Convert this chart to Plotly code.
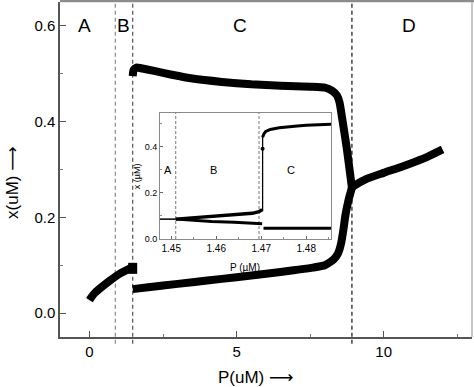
import plotly.graph_objects as go

# ---------------- main panel data ----------------
# lower branch in regions A/B
pAB = [0.0, 0.1, 0.2, 0.37, 0.7, 1.05, 1.47]
xAB = [0.027, 0.036, 0.043, 0.052, 0.068, 0.083, 0.096]
# small step at the end of that branch
pStep = [1.47, 1.47]
xStep = [0.082, 0.105]
# lower branch in region C
pClow = [1.47, 2.0, 3.0, 4.0, 5.0, 6.0, 7.0, 7.6, 8.0, 8.3, 8.45, 8.55, 8.62, 8.7, 8.8, 8.92]
xClow = [0.050, 0.054, 0.061, 0.068, 0.075, 0.082, 0.090, 0.095, 0.100, 0.112, 0.125, 0.145, 0.170, 0.205, 0.235, 0.262]
# upper branch in region C
pCup = [1.47, 1.50, 1.6, 1.8, 2.2, 2.8, 3.5, 4.5, 5.5, 6.5, 7.5, 8.0, 8.24, 8.41, 8.5, 8.58, 8.75, 8.92]
xCup = [0.495, 0.508, 0.513, 0.511, 0.506, 0.498, 0.490, 0.483, 0.478, 0.475, 0.473, 0.471, 0.465, 0.455, 0.440, 0.410, 0.342, 0.262]
# branch in region D
pD = [8.92, 9.0, 9.4, 10.0, 10.8, 11.5, 12.0]
xD = [0.262, 0.266, 0.280, 0.293, 0.310, 0.327, 0.342]

boundaries = [0.88, 1.47, 8.92]
boundary_colors = ["#8a8a8a", "#555555", "#111111"]
region_names = ["A", "B", "C", "D"]
region_p = [-0.17, 1.15, 5.1, 10.85]
region_x = [0.60, 0.60, 0.60, 0.60]

x_ticks = [0, 5, 10]
y_ticks = [0.0, 0.2, 0.4, 0.6]

# ---------------- inset data ----------------
iA_p = [1.4475, 1.451]
iA_x = [0.086, 0.086]
iBup_p = [1.451, 1.455, 1.459, 1.463, 1.466, 1.468, 1.4695, 1.4702]
iBup_x = [0.086, 0.092, 0.098, 0.103, 0.107, 0.111, 0.118, 0.127]
iBlo_p = [1.451, 1.455, 1.459, 1.464, 1.468, 1.4702]
iBlo_x = [0.086, 0.080, 0.076, 0.073, 0.070, 0.066]
iClo_p = [1.4705, 1.4855]
iClo_x = [0.047, 0.047]
iJump_p = [1.4703, 1.4703]
iJump_x = [0.12, 0.45]
iDot_p = [1.4703]
iDot_x = [0.39]
iCup_p = [1.4703, 1.4706, 1.471, 1.472, 1.474, 1.476, 1.478, 1.48, 1.483, 1.4855]
iCup_x = [0.440, 0.455, 0.465, 0.474, 0.481, 0.486, 0.489, 0.492, 0.494, 0.496]

inset_bounds = [1.451, 1.4695]
inset_names = ["A", "B", "C"]
inset_label_p = [1.4493, 1.4593, 1.4765]
inset_label_x = [0.30, 0.30, 0.30]
inset_xticks = [1.45, 1.46, 1.47, 1.48]
inset_yticks = [0.0, 0.2, 0.4]

FONT = "Liberation Sans, Arial, Helvetica, sans-serif"
fig = go.Figure()

MW = 8
for p, x in [(pAB, xAB), (pClow, xClow), (pCup, xCup), (pD, xD)]:
    fig.add_trace(go.Scatter(x=p, y=x, mode="lines",
                             line=dict(color="black", width=MW, shape="spline", smoothing=0.5),
                             showlegend=False, hoverinfo="skip"))
fig.add_trace(go.Scatter(x=pStep, y=xStep, mode="lines", line=dict(color="black", width=9),
                         showlegend=False, hoverinfo="skip"))

# inset traces
def inset_line(p, x, w):
    fig.add_trace(go.Scatter(x=p, y=x, mode="lines", line=dict(color="black", width=w),
                             xaxis="x2", yaxis="y2", showlegend=False, hoverinfo="skip"))

inset_line(iA_p, iA_x, 1.5)
inset_line(iBup_p, iBup_x, 3.5)
inset_line(iBlo_p, iBlo_x, 3.0)
inset_line(iClo_p, iClo_x, 3.0)
inset_line(iJump_p, iJump_x, 1.3)
inset_line(iCup_p, iCup_x, 3.0)
fig.add_trace(go.Scatter(x=iDot_p, y=iDot_x, mode="markers", marker=dict(color="black", size=4),
                         xaxis="x2", yaxis="y2", showlegend=False, hoverinfo="skip"))

shapes = []
for b, c in zip(boundaries, boundary_colors):
    shapes.append(dict(type="line", xref="x", yref="paper", x0=b, x1=b, y0=-0.02, y1=1,
                       line=dict(color=c, width=1.2, dash="4px,3px"), layer="below"))
for b in inset_bounds:
    shapes.append(dict(type="line", xref="x2", yref="y2", x0=b, x1=b, y0=0, y1=0.545,
                       line=dict(color="#777777", width=1, dash="3px,2px"), layer="below"))
# top and right frame of main panel
shapes.append(dict(type="line", xref="paper", yref="paper", x0=0, x1=1.005, y0=1.004, y1=1.004,
                   line=dict(color="#8c8c8c", width=3)))
shapes.append(dict(type="line", xref="paper", yref="paper", x0=1, x1=1, y0=0, y1=1,
                   line=dict(color="#b5b5b5", width=1.5)))

annotations = []
for n, p, x in zip(region_names, region_p, region_x):
    annotations.append(dict(x=p, y=x, xref="x", yref="y", text=n, showarrow=False,
                            font=dict(family=FONT, size=19, color="black")))
for n, p, x in zip(inset_names, inset_label_p, inset_label_x):
    annotations.append(dict(x=p, y=x, xref="x2", yref="y2", text=n, showarrow=False,
                            font=dict(family=FONT, size=11, color="black")))
annotations.append(dict(x=0.4757, y=-0.119, xref="paper", yref="paper",
                        xanchor="center", yanchor="middle",
                        text="P(uM) <span style='font-family:DejaVu Sans'>\u27f6</span>",
                        showarrow=False, font=dict(family=FONT, size=17, color="black")))
annotations.append(dict(x=-0.1165, y=0.46, xref="paper", yref="paper",
                        xanchor="center", yanchor="middle",
                        text="x(uM) <span style='font-family:DejaVu Sans'>\u27f6</span>",
                        textangle=-90, showarrow=False, font=dict(family=FONT, size=17, color="black")))
annotations.append(dict(x=0.45, y=0.207, xref="paper", yref="paper", text="P (\u00b5M)",
                        xanchor="center", yanchor="middle",
                        showarrow=False, font=dict(family=FONT, size=10, color="black")))
annotations.append(dict(x=0.187, y=0.48, xref="paper", yref="paper", text="x (\u00b5M)",
                        xanchor="center", yanchor="middle",
                        textangle=-90, showarrow=False, font=dict(family=FONT, size=9, color="black")))

fig.update_layout(
    width=474, height=387,
    margin=dict(l=60, r=2, t=2, b=50),
    paper_bgcolor="white", plot_bgcolor="white",
    shapes=shapes, annotations=annotations,
    xaxis=dict(range=[-1, 13], tickvals=x_ticks, ticks="inside", ticklen=6, tickcolor="#555",
               minor=dict(dtick=2.5, tick0=0, ticks="inside", ticklen=3, tickcolor="#777"),
               showline=True, linecolor="#555555", linewidth=1.5, showgrid=False, zeroline=False,
               tickfont=dict(family=FONT, size=15, color="black")),
    yaxis=dict(range=[-0.05, 0.65], tickvals=y_ticks, tickformat=".1f", ticks="inside", ticklen=6,
               tickcolor="#555",
               minor=dict(dtick=0.1, tick0=0, ticks="inside", ticklen=3, tickcolor="#777"),
               showline=True, linecolor="#555555", linewidth=1.5, showgrid=False, zeroline=False,
               tickfont=dict(family=FONT, size=15, color="black")),
    xaxis2=dict(domain=[0.2427, 0.6578], anchor="y2", range=[1.4475, 1.4855], tickvals=inset_xticks,
                tickformat=".2f", ticks="inside", ticklen=3, tickcolor="#666",
                minor=dict(dtick=0.005, tick0=1.45, ticks="inside", ticklen=2, tickcolor="#888"),
                showline=True, mirror=True, linecolor="#8a8a8a", linewidth=1, showgrid=False,
                zeroline=False, tickfont=dict(family=FONT, size=10, color="black")),
    yaxis2=dict(domain=[0.2925, 0.6687], anchor="x2", range=[0, 0.545], tickvals=inset_yticks,
                tickformat=".1f", ticks="inside", ticklen=3, tickcolor="#666",
                minor=dict(dtick=0.1, tick0=0, ticks="inside", ticklen=2, tickcolor="#888"),
                showline=True, mirror=True, linecolor="#8a8a8a", linewidth=1, showgrid=False,
                zeroline=False, tickfont=dict(family=FONT, size=9, color="black")),
)

fig.write_html("out.html", config={"displayModeBar": False},
               post_script="document.body.style.margin='0px';")
